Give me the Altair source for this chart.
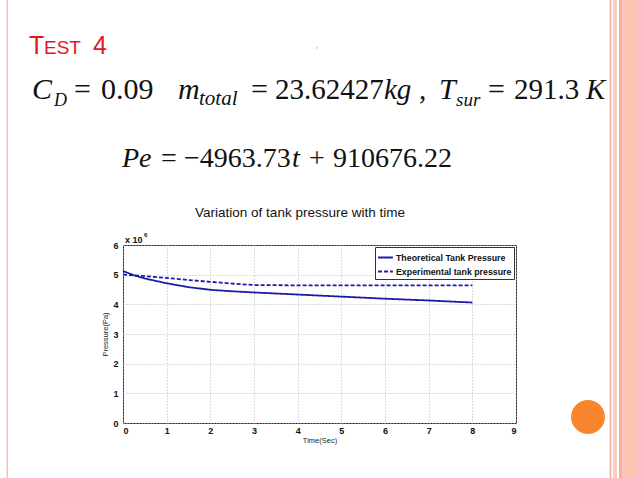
import altair as alt
import pandas as pd

# ---- chart data (pressure in Pa) ----
t_theory = [0, 0.25, 0.5, 1, 1.5, 2, 2.5, 3, 4, 5, 6, 7, 8]
p_theory = [5120000, 4980000, 4870000, 4710000, 4580000, 4490000, 4440000,
            4400000, 4330000, 4260000, 4190000, 4130000, 4060000]
t_exp = [0, 0.5, 1, 1.5, 2, 2.5, 3, 4, 5, 6, 7, 8]
p_exp = [5000000, 4950000, 4890000, 4820000, 4760000, 4700000, 4650000,
         4640000, 4640000, 4640000, 4640000, 4640000]
series_names = ["Theoretical Tank Pressure", "Experimental tank pressure"]
x_ticks = [0, 1, 2, 3, 4, 5, 6, 7, 8, 9]
y_ticks = [0, 1000000, 2000000, 3000000, 4000000, 5000000, 6000000]

df = pd.concat([
    pd.DataFrame({"t": t_theory, "p": p_theory, "series": series_names[0]}),
    pd.DataFrame({"t": t_exp, "p": p_exp, "series": series_names[1]}),
])

# ---- layout ----
LEFT, TOP = 123, 245
W, H = 393, 178
PAGE_W, PAGE_H = 638, 478
BLUE = "#1c1ca8"
RED = "#e2161d"


def rx(px):
    return px - LEFT


def ry(py):
    return py - TOP


one = alt.Data(values=[{}])

lines = alt.Chart(df).mark_line(color=BLUE, strokeWidth=1.8).encode(
    x=alt.X("t:Q", scale=alt.Scale(domain=[0, 9], nice=False),
            axis=alt.Axis(values=x_ticks, title="Time(Sec)", format="d",
                          grid=True, gridDash=[1, 2], gridColor="#b8b8b8",
                          domain=False, ticks=False, labelPadding=3,
                          labelFontWeight="bold", labelFontSize=9,
                          labelFont="Liberation Sans", labelColor="#111",
                          titleFont="Liberation Sans", titleFontSize=7.5,
                          titleFontWeight="normal", titlePadding=1,
                          titleColor="#222")),
    y=alt.Y("p:Q", scale=alt.Scale(domain=[0, 6000000], nice=False),
            axis=alt.Axis(values=y_ticks,
                          labelExpr="format(datum.value/1000000,'d')",
                          title="Pressure(Pa)",
                          grid=True, gridDash=[1, 2], gridColor="#b8b8b8",
                          domain=False, ticks=False, labelPadding=5,
                          labelFontWeight="bold", labelFontSize=9,
                          labelFont="Liberation Sans", labelColor="#111",
                          titleFont="Liberation Sans", titleFontSize=7.5,
                          titleFontWeight="normal", titlePadding=3,
                          titleColor="#222")),
    strokeDash=alt.StrokeDash(
        "series:N",
        scale=alt.Scale(domain=series_names, range=[[1, 0], [4, 2]]),
        legend=alt.Legend(title=None, orient="none", legendX=252, legendY=2,
                          symbolType="stroke", symbolStrokeColor=BLUE,
                          symbolStrokeWidth=1.8, symbolSize=220,
                          labelFontSize=8.8, labelFontWeight="bold",
                          labelFont="Liberation Sans", labelColor="#111",
                          strokeColor="#333", fillColor="white",
                          padding=2, rowPadding=0, labelOffset=2,
                          labelLimit=200)),
)

layers = []

# slide decorations
def rect(x1, x2, y1, y2, color):
    return alt.Chart(one).mark_rect(color=color).encode(
        x=alt.value(rx(x1)), x2=alt.value(rx(x2)),
        y=alt.value(ry(y1)), y2=alt.value(ry(y2)))

layers += [
    rect(6.5, 8, 0, PAGE_H, "#f3c2b3"),
    rect(609.5, 611.5, 0, PAGE_H, "#f0bba9"),
    rect(613, 617, 0, PAGE_H, "#f7cfc3"),
    rect(619, 622, 0, PAGE_H, "#eeb39d"),
    rect(622, 638, 0, PAGE_H, "#fdc5b5"),
]

layers.append(alt.Chart(one).mark_circle(color="#f7862e", opacity=1, size=1150).encode(
    x=alt.value(rx(588)), y=alt.value(ry(417))))


def txt(s, x, y, size, font="Liberation Serif", style="normal", weight="normal",
        color="#111", align="left", baseline="alphabetic"):
    return alt.Chart(one).mark_text(
        text=s, fontSize=size, font=font, fontStyle=style, fontWeight=weight,
        color=color, align=align, baseline=baseline,
    ).encode(x=alt.value(rx(x)), y=alt.value(ry(y)))

# Title "TEST 4" in small caps
layers += [
    txt("T", 29, 54, 25, font="Liberation Sans", color=RED),
    txt("EST", 44, 54, 19, font="Liberation Sans", color=RED),
    txt("4", 93, 54, 25, font="Liberation Sans", color=RED),
    txt(",", 316, 48, 7, font="Liberation Sans", color="#666"),
]

# formula lines
I, R = "italic", "normal"
seg1 = [
    ("C", 32, 99, 30, I), ("D", 54, 106, 18, I), ("=", 74, 99, 30, R), ("0.09", 101, 99, 30, R),
    ("m", 178, 99, 30, I), ("total", 199, 105, 21, I), ("=", 251, 99, 30, R),
    ("23.62427", 275, 99, 29, R), ("kg", 384, 99, 29, I), (",", 419, 99, 29, R),
    ("T", 439, 99, 30, I), ("sur", 456, 106, 19, I), ("=", 488, 99, 30, R),
    ("291.3", 514, 99, 29, R), ("K", 586, 99, 29, I),
]
seg2 = [
    ("Pe", 122, 167, 28, I), ("=", 161, 167, 28, R), ("\u22124963.73", 184, 167, 28, R),
    ("t", 292, 167, 28, I), ("+", 309, 167, 28, R), ("910676.22", 333, 167, 28, R),
]
for s, x, y, size, st in seg1 + seg2:
    layers.append(txt(s, x, y, size, style=st))

# chart title
layers.append(txt("Variation of tank pressure with time", 300, 217, 13.5,
                  font="Liberation Sans", align="center", color="#111"))

# exponent label
layers += [
    txt("x 10", 125, 243, 9, font="Liberation Sans", weight="bold"),
    txt("6", 144, 237, 6, font="Liberation Sans", weight="bold"),
]

chart = alt.layer(lines, *layers).properties(
    width=W, height=H,
    autosize=alt.AutoSizeParams(type="none"),
    padding={"left": LEFT, "top": TOP, "right": PAGE_W - LEFT - W,
             "bottom": PAGE_H - TOP - H},
    background="white",
).configure_view(stroke="#222", strokeWidth=1)

chart.save("out.html", embed_options={"renderer": "svg", "actions": False})
